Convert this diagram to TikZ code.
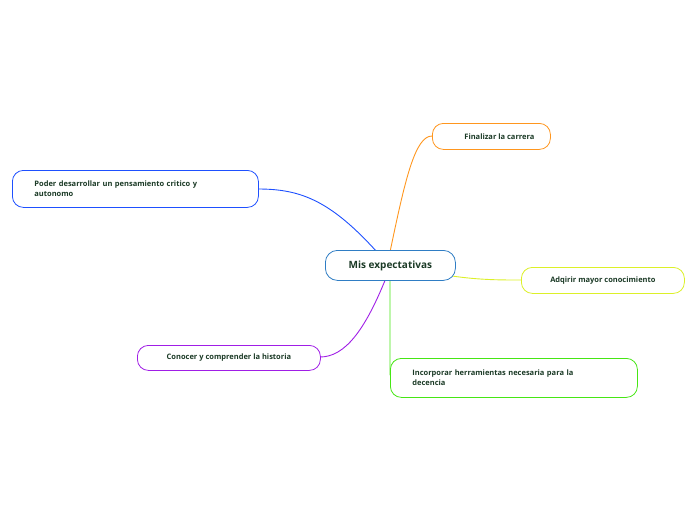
\documentclass[tikz,border=0pt]{standalone}
\usepackage{fontspec}
\setmainfont{Open Sans}
\begin{document}
\begin{tikzpicture}[x=1pt,y=-1pt,
 box/.style={draw,rounded corners=11pt,line width=0.8pt,fill=white,font=\bfseries\fontsize{7.5}{9.5}\selectfont,text=black!80!green!60!black,inner sep=0pt,anchor=north west},
 conn/.style={line width=0.9pt}]
\useasboundingbox (0,0) rectangle (696,520);
\definecolor{cblue}{HTML}{2F7DC4}
\definecolor{txt}{HTML}{1B3A26}
% connectors
\draw[conn,color={rgb,255:red,255;green,150;blue,30}] (390,252) .. controls (405,180) and (415,136) .. (432,136);
\draw[conn,color={rgb,255:red,30;green,80;blue,255}] (377,252) .. controls (330,200) and (300,189) .. (258,189);
\draw[conn,color={rgb,255:red,220;green,240;blue,40}] (452,276) .. controls (480,280) and (500,280) .. (521,280);
\draw[conn,color={rgb,255:red,160;green,30;blue,230}] (386,278) .. controls (365,330) and (345,357) .. (320,357);
\draw[conn,color={rgb,255:red,70;green,230;blue,20}] (390,280) -- (390,370) .. controls (390,378) .. (398,378);
% nodes
\node[box,draw=cblue,rounded corners=12pt,minimum width=130pt,minimum height=30pt,font=\bfseries\fontsize{10}{12}\selectfont,text=txt] (c) at (325,250) {Mis expectativas};
\node[box,draw={rgb,255:red,255;green,150;blue,30},minimum width=118pt,minimum height=26pt,text=txt] (a) at (432,123) {\hspace*{16pt}Finalizar la carrera\hfill};
\node[box,draw={rgb,255:red,30;green,80;blue,255},minimum width=246pt,minimum height=37pt,text=txt,align=left,text width=246pt] (b) at (12,170) {\hspace*{22pt}\begin{minipage}{200pt}Poder desarrollar un pensamiento critico y\\autonomo\end{minipage}};
\node[box,draw={rgb,255:red,220;green,240;blue,40},minimum width=163pt,minimum height=26pt,text=txt] (d) at (521,267) {Adqirir mayor conocimiento};
\node[box,draw={rgb,255:red,160;green,30;blue,230},minimum width=183pt,minimum height=25pt,text=txt] (e) at (137,345) {Conocer y comprender la historia};
\node[box,draw={rgb,255:red,70;green,230;blue,20},minimum width=247pt,minimum height=39pt,text=txt,text width=247pt] (f) at (390,358) {\hspace*{22pt}\begin{minipage}{210pt}Incorporar herramientas necesaria para la\\decencia\end{minipage}};
\end{tikzpicture}
\end{document}
